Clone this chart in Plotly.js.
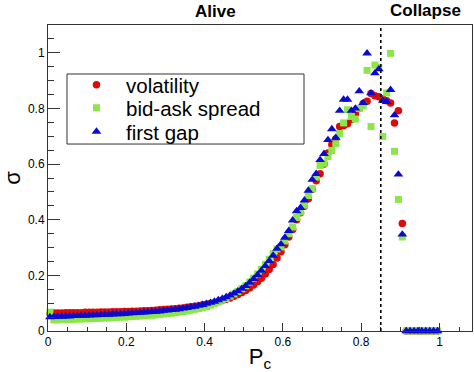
<!DOCTYPE html>
<html>
<head>
<meta charset="utf-8">
<script src="https://cdn.plot.ly/plotly-3.0.1.min.js"></script>
<style>html,body{margin:0;padding:0;background:#fff;}#chart{width:474px;height:372px;}</style>
</head>
<body>
<div id="chart"></div>
<script>
// Pc values: bin centres 0.005 ... 0.995
const pc = [];
for (let k = 0; k < 100; k++) pc.push(+(0.005 + 0.01 * k).toFixed(3));

const volatility = [
0.062,0.065,0.065,0.065,0.066,0.066,0.066,0.066,0.066,0.067,
0.067,0.067,0.067,0.068,0.068,0.068,0.069,0.069,0.069,0.070,
0.070,0.071,0.071,0.072,0.073,0.073,0.074,0.075,0.076,0.077,
0.078,0.079,0.080,0.082,0.083,0.085,0.087,0.089,0.091,0.094,
0.096,0.099,0.102,0.106,0.110,0.114,0.119,0.125,0.131,0.138,
0.146,0.155,0.165,0.177,0.190,0.205,0.221,0.239,0.262,0.285,
0.310,0.338,0.365,0.400,0.425,0.448,0.475,0.510,0.540,0.565,
0.600,0.640,0.670,0.690,0.735,0.738,0.745,0.760,0.780,0.800,
0.818,0.826,0.854,0.846,0.842,0.835,0.828,0.820,0.748,0.792,
0.386,0,0,0,0,0,0,0,0,0];

const bidAskSpread = [
0.068,0.040,0.040,0.041,0.041,0.042,0.042,0.043,0.043,0.044,
0.044,0.045,0.045,0.046,0.047,0.047,0.048,0.049,0.050,0.050,
0.051,0.052,0.053,0.054,0.055,0.056,0.057,0.058,0.060,0.061,
0.063,0.064,0.066,0.068,0.070,0.072,0.075,0.078,0.081,0.084,
0.088,0.093,0.098,0.104,0.110,0.117,0.125,0.133,0.142,0.152,
0.163,0.176,0.190,0.205,0.222,0.240,0.258,0.278,0.295,0.302,
0.324,0.350,0.374,0.408,0.428,0.452,0.487,0.511,0.553,0.595,
0.603,0.627,0.649,0.673,0.710,0.748,0.795,0.771,0.762,0.800,
0.810,0.937,0.735,0.956,0.948,0.699,0.856,0.998,0.646,0.473,
0.338,0,0,0,0,0,0,0,0,0];

const firstGap = [
0.050,0.051,0.052,0.052,0.053,0.053,0.054,0.054,0.055,0.055,
0.056,0.057,0.057,0.058,0.059,0.059,0.060,0.061,0.061,0.062,
0.063,0.064,0.065,0.066,0.067,0.068,0.069,0.070,0.071,0.073,
0.074,0.076,0.077,0.079,0.081,0.083,0.086,0.088,0.091,0.094,
0.098,0.102,0.106,0.111,0.116,0.122,0.128,0.135,0.143,0.152,
0.162,0.174,0.187,0.201,0.217,0.234,0.252,0.271,0.296,0.312,
0.336,0.360,0.398,0.431,0.443,0.470,0.505,0.544,0.565,0.615,
0.637,0.687,0.726,0.695,0.792,0.832,0.832,0.792,0.800,0.862,
0.820,0.998,0.855,0.927,0.941,0.828,0.824,0.867,0.776,0.563,
0.347,0,0,0,0,0,0,0,0,0];

const seriesNames = ['volatility', 'bid-ask spread', 'first gap'];
const criticalPc = 0.85;
const regionLabels = ['Alive', 'Collapse'];
const xTickVals = [0, 0.2, 0.4, 0.6, 0.8, 1];
const xTickText = ['0', '0.2', '0.4', '0.6', '0.8', '1'];
const yTickVals = [0, 0.2, 0.4, 0.6, 0.8, 1];
const yTickText = ['0', '0.2', '0.4', '0.6', '0.8', '1'];

const font = 'Liberation Sans, Arial, Helvetica, sans-serif';

const traces = [
  {x: pc, y: volatility, name: seriesNames[0], type: 'scatter', mode: 'markers', cliponaxis: false, legend: 'legend',
   marker: {symbol: 'circle', size: 7.5, color: '#dd0a0a'}},
  {x: pc, y: bidAskSpread, name: seriesNames[1], type: 'scatter', mode: 'markers', cliponaxis: false, legend: 'legend2',
   marker: {symbol: 'square', size: 7, color: '#8ce64a'}},
  {x: pc, y: firstGap, name: seriesNames[2], type: 'scatter', mode: 'markers', cliponaxis: false, legend: 'legend3',
   marker: {symbol: 'triangle-up', size: 8.5, color: '#0a0ad2'}}
];

const axisCommon = {
  showgrid: false, zeroline: false, showline: true, mirror: true,
  linecolor: '#333', linewidth: 1, ticks: 'inside', tickcolor: '#333',
  tickfont: {family: font, size: 12, color: '#000'}
};

function legendAt(yPaper) {
  return {x: 0.0448, y: yPaper, xanchor: 'left', yanchor: 'middle',
    bgcolor: 'rgba(255,255,255,0)', borderwidth: 0,
    font: {family: font, size: 20.5, color: '#000'}, itemwidth: 49};
}

const layout = {
  width: 474, height: 372,
  margin: {l: 48, r: 2, t: 25, b: 41, pad: 0},
  paper_bgcolor: '#fff', plot_bgcolor: '#fff',
  showlegend: true,
  legend: legendAt(0.804),
  legend2: legendAt(0.729),
  legend3: legendAt(0.651),
  xaxis: Object.assign({}, axisCommon, {
    range: [0, 1.083], tickvals: xTickVals, ticktext: xTickText, ticklen: 8,
    minor: {dtick: 0.05, ticklen: 4.5, ticks: 'inside', tickcolor: '#333'},
    title: {text: 'P<sub>c</sub>', font: {family: font, size: 22, color: '#000'}, standoff: 6}
  }),
  yaxis: Object.assign({}, axisCommon, {
    range: [0, 1.1], tickvals: yTickVals, ticktext: yTickText, ticklen: 12,
    minor: {dtick: 0.05, ticklen: 6, ticks: 'inside', tickcolor: '#333'},
    title: {text: 'σ', font: {family: font, size: 22, color: '#000'}, standoff: 10}
  }),
  shapes: [
    {type: 'line', xref: 'x', yref: 'paper', x0: criticalPc, x1: criticalPc, y0: 0, y1: 1,
     line: {color: '#000', width: 1.6, dash: 'dot'}},
    {type: 'rect', xref: 'paper', yref: 'paper', x0: 0.0448, x1: 0.6038, y0: 0.611, y1: 0.8399,
     line: {color: '#333', width: 1}, fillcolor: 'rgba(0,0,0,0)'}
  ],
  annotations: [
    {text: '<b>' + regionLabels[0] + '</b>', xref: 'x', yref: 'paper', x: 0.427, y: 1.0, yanchor: 'bottom', yshift: 2,
     showarrow: false, font: {family: font, size: 17, color: '#000'}},
    {text: '<b>' + regionLabels[1] + '</b>', xref: 'x', yref: 'paper', x: 0.963, y: 1.0, yanchor: 'bottom', yshift: 3,
     showarrow: false, font: {family: font, size: 17, color: '#000'}}
  ]
};

Plotly.newPlot('chart', traces, layout, {displayModeBar: false, staticPlot: true});
</script>
</body>
</html>
